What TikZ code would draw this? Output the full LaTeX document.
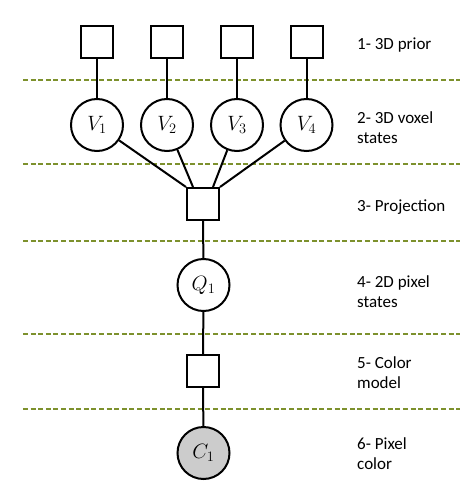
\documentclass[tikz,border=0pt]{standalone}
\usepackage{fontspec}
\setmainfont{Carlito}
\definecolor{sepcol}{RGB}{125,145,45}
\begin{document}
\begin{tikzpicture}[x=1pt,y=-1pt,
  factor/.style={draw, line width=2pt, minimum size=32pt, inner sep=0pt},
  var/.style={draw, circle, line width=2pt, minimum size=52pt, inner sep=0pt, font=\fontsize{20.74}{23}\selectfont},
  obs/.style={var, fill=black!20},
  edge/.style={line width=2pt},
  sep/.style={draw=sepcol, line width=1.3pt, dash pattern=on 5pt off 2.6pt},
  lbl/.style={anchor=west, align=left, font=\fontsize{17}{20}\selectfont, inner sep=0pt}
]
\useasboundingbox (0,0) rectangle (474,500);
\fill[white] (0,0) rectangle (474,500);

% separators
\coordinate (s1a) at (23,80);  \coordinate (s1b) at (460,80);
\coordinate (s2a) at (23,164); \coordinate (s2b) at (460,164);
\coordinate (s3a) at (23,241); \coordinate (s3b) at (460,241);
\coordinate (s4a) at (23,334); \coordinate (s4b) at (460,334);
\coordinate (s5a) at (23,409); \coordinate (s5b) at (460,409);
\draw[sep] (s1a) -- (s1b);
\draw[sep] (s2a) -- (s2b);
\draw[sep] (s3a) -- (s3b);
\draw[sep] (s4a) -- (s4b);
\draw[sep] (s5a) -- (s5b);

% priors
\node[factor] (p1) at (97,42) {};
\node[factor] (p2) at (167,42) {};
\node[factor] (p3) at (237,42) {};
\node[factor] (p4) at (306.5,42) {};

% voxel states
\node[var] (V1) at (97,125) {$V_1$};
\node[var] (V2) at (167,125) {$V_2$};
\node[var] (V3) at (237,125) {$V_3$};
\node[var] (V4) at (306.5,125) {$V_4$};

% projection
\node[factor] (proj) at (203,204) {};
% pixel state
\node[var] (Q1) at (203.5,285) {$Q_1$};
% color model
\node[factor] (cm) at (203,371) {};
% pixel color
\node[obs] (C1) at (203.5,453) {$C_1$};

\draw[edge] (p1) -- (V1);
\draw[edge] (p2) -- (V2);
\draw[edge] (p3) -- (V3);
\draw[edge] (p4) -- (V4);
\draw[edge] (V1) -- (proj.north west);
\draw[edge] (V2) -- ([xshift=-10pt]proj.north);
\draw[edge] (V3) -- ([xshift=10pt]proj.north);
\draw[edge] (V4) -- (proj.north east);
\draw[edge] (proj) -- (Q1);
\draw[edge] (Q1) -- (cm);
\draw[edge] (cm) -- (C1);

% labels
\node[lbl] (l1) at (357,45) {1- 3D prior};
\node[lbl] (l2) at (357,127.5) {2- 3D voxel\\states};
\node[lbl] (l3) at (357,207) {3- Projection};
\node[lbl] (l4) at (357,292) {4- 2D pixel\\states};
\node[lbl] (l5) at (357,373) {5- Color\\model};
\node[lbl] (l6) at (357,453.5) {6- Pixel\\color};
\end{tikzpicture}
\end{document}
